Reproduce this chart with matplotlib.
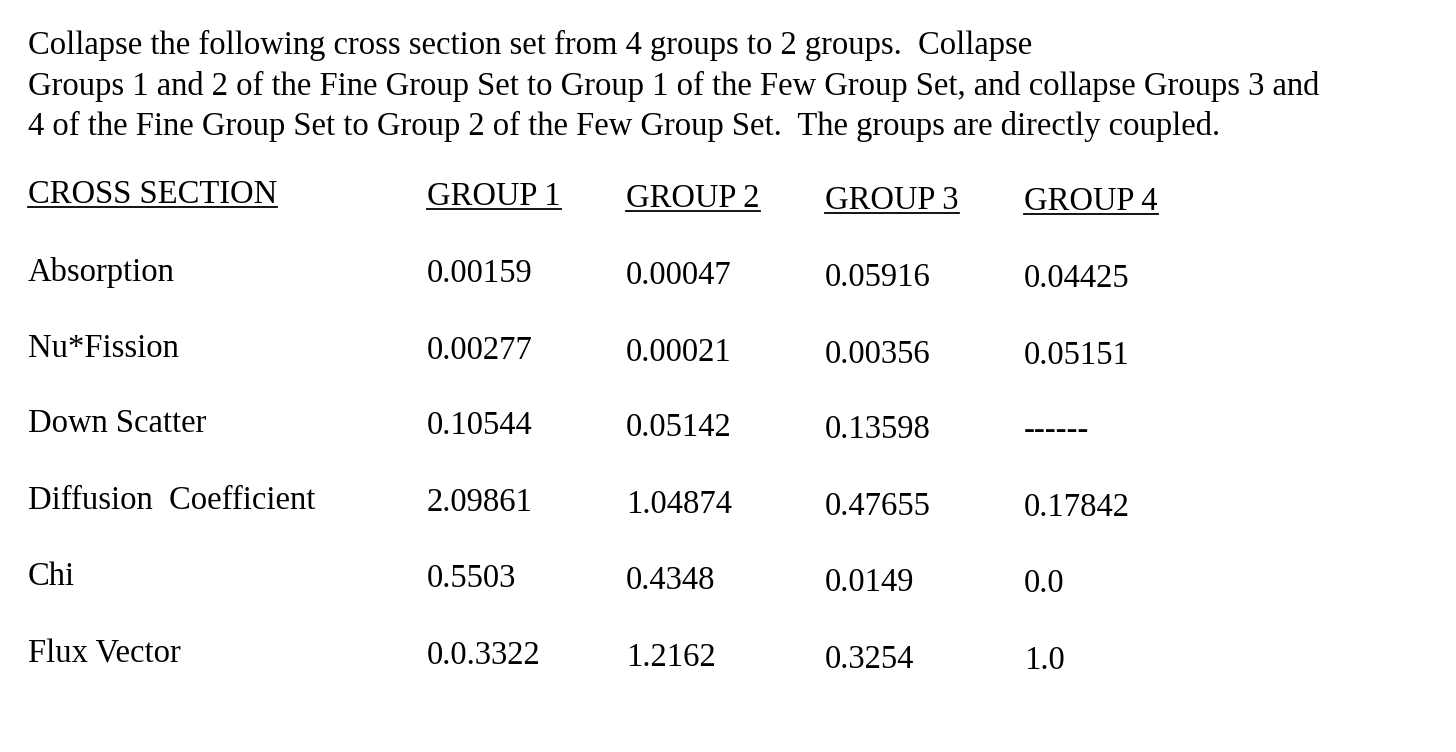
import matplotlib
matplotlib.use("Agg")
import matplotlib.pyplot as plt
from matplotlib.lines import Line2D

intro = ["Collapse the following cross section set from 4 groups to 2 groups.  Collapse",
         "Groups 1 and 2 of the Fine Group Set to Group 1 of the Few Group Set, and collapse Groups 3 and",
         "4 of the Fine Group Set to Group 2 of the Few Group Set.  The groups are directly coupled."]
headers = ["CROSS SECTION", "GROUP 1", "GROUP 2", "GROUP 3", "GROUP 4"]
rows = ["Absorption", "Nu*Fission", "Down Scatter", "Diffusion  Coefficient", "Chi", "Flux Vector"]
g1 = ["0.00159", "0.00277", "0.10544", "2.09861", "0.5503", "0.0.3322"]
g2 = ["0.00047", "0.00021", "0.05142", "1.04874", "0.4348", "1.2162"]
g3 = ["0.05916", "0.00356", "0.13598", "0.47655", "0.0149", "0.3254"]
g4 = ["0.04425", "0.05151", "------", "0.17842", "0.0", "1.0"]

W, H = 1456, 752
fig = plt.figure(figsize=(W/100, H/100), dpi=100)
fig.patch.set_facecolor("white")
fam = ["Liberation Serif", "DejaVu Serif"]
fs = 23.5

def put(x, y, s):
    return fig.text(x/W, 1 - y/H, s, fontsize=fs, family=fam, va="center", ha="left", color="black")

intro_y = [45, 86, 126]
for s, y in zip(intro, intro_y):
    put(28, y, s)

colx = [28, 427, 626, 825, 1024]
coloff = [0, 2, 4, 6, 7]
hy = 195
hdr = [put(x, hy + o, s) for x, o, s in zip(colx, coloff, headers)]

rowy = [272, 349, 424, 501, 577, 654]
cols = [rows, g1, g2, g3, g4]
for x, o, vals in zip(colx, coloff, cols):
    for y, v in zip(rowy, vals):
        put(x, y + o, v)

fig.canvas.draw()
r = fig.canvas.get_renderer()
for t in hdr:
    bb = t.get_window_extent(r)
    yl = bb.y0 + 3
    fig.add_artist(Line2D([bb.x0/W, bb.x1/W], [yl/H, yl/H], color="black", lw=1.3,
                          transform=fig.transFigure))

fig.savefig("out.png", dpi=100, facecolor="white")
